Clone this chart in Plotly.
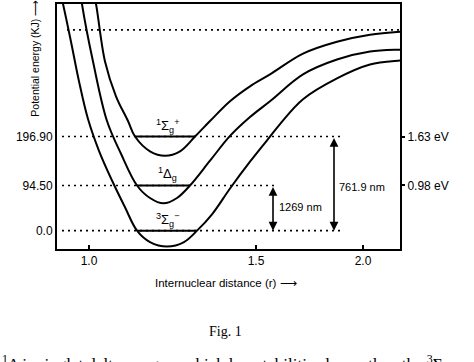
import plotly.graph_objects as go

# ---- data (r axis position, energy in kJ) ----
r_ground = [0.9162, 0.9222, 0.9461, 0.9701, 0.9970, 1.0299, 1.0689, 1.1078, 1.1437,
            1.1826, 1.2335, 1.2844, 1.3234, 1.3683, 1.4222, 1.4820, 1.5389, 1.5719,
            1.6407, 1.7425, 1.8413, 1.9311, 1.9461]
e_ground = [490.7, 474.1, 395.2, 312.2, 233.4, 167.0, 104.8, 48.8, 0.0,
            -23.9, -33.2, -23.9, 0.0, 34.2, 88.2, 144.2, 194.0, 223.0,
            274.9, 318.5, 347.5, 355.8, 356.8]

r_delta = [0.9760, 0.9790, 1.0120, 1.0539, 1.0958, 1.1437, 1.1826, 1.2231, 1.2635,
           1.3024, 1.3623, 1.4222, 1.4820, 1.5419, 1.6407, 1.7425, 1.8413, 1.9311, 1.9461]
e_delta = [490.7, 474.1, 353.7, 229.3, 160.8, 94.5, 68.3, 57.1, 68.3,
           94.5, 146.3, 198.1, 237.6, 270.7, 326.8, 357.9, 374.5, 378.6, 379.0]

r_sigma = [1.0150, 1.0210, 1.0479, 1.0808, 1.1168, 1.1377, 1.1826, 1.2275, 1.2725,
           1.3174, 1.3623, 1.4222, 1.4820, 1.5419, 1.6407, 1.7425, 1.8413, 1.9311, 1.9461]
e_sigma = [490.7, 474.1, 353.7, 281.1, 229.3, 196.9, 166.0, 156.6, 166.0,
           196.9, 229.3, 270.7, 301.9, 326.8, 370.3, 395.2, 409.8, 416.0, 416.4]

levels = [0.0, 94.5, 196.9]
level_labels = ["<sup>3</sup>Σ<sub>g</sub><sup>−</sup>",
                "<sup>1</sup>Δ<sub>g</sub>",
                "<sup>1</sup>Σ<sub>g</sub><sup>+</sup>"]
level_solid_start = [1.1437, 1.1437, 1.1377]
level_solid_end = [1.3234, 1.3024, 1.3174]
level_dot_start = [0.9192, 0.9192, 0.9192]
level_dot_end = [1.7605, 1.5659, 1.7605]
label_r = 1.2365

dissoc_energy = 420.0
dissoc_span = [0.9341, 1.9311]

transitions = ["1269 nm", "761.9 nm"]
trans_r = [1.5509, 1.7335]
trans_from = [94.5, 196.9]
trans_label_r = [1.5629, 1.7425]
trans_label_e = [48.8, 92.3]

x_tickvals = [1.0, 1.5, 1.8204]
x_ticktext = ["1.0", "1.5", "2.0"]
y_ticktext = ["0.0", "94.50", "196.90"]
ev_vals = [196.9, 94.5]
ev_text = ["1.63 eV", "0.98 eV"]

xrange = [0.9042, 1.9311]
yrange = [-38.4, 474.1]

FONT = "Liberation Sans, Arial, sans-serif"
SERIF = "Liberation Serif, Times New Roman, serif"
fig = go.Figure()

# dotted guide lines
for lv, a, b in zip(levels, level_dot_start, level_dot_end):
    fig.add_trace(go.Scatter(x=[a, b], y=[lv, lv], mode="lines",
                             line=dict(color="black", width=1.6, dash="2px,4px"),
                             hoverinfo="skip", showlegend=False))
fig.add_trace(go.Scatter(x=dissoc_span, y=[dissoc_energy, dissoc_energy], mode="lines",
                         line=dict(color="black", width=1.6, dash="2px,4px"),
                         hoverinfo="skip", showlegend=False))

# potential curves
for rr, ee in [(r_ground, e_ground), (r_delta, e_delta), (r_sigma, e_sigma)]:
    fig.add_trace(go.Scatter(x=rr, y=ee, mode="lines",
                             line=dict(color="black", width=2, shape="spline", smoothing=1.0),
                             hoverinfo="skip", showlegend=False))

# v=0 levels
for lv, a, b in zip(levels, level_solid_start, level_solid_end):
    fig.add_trace(go.Scatter(x=[a, b], y=[lv, lv], mode="lines",
                             line=dict(color="black", width=2),
                             hoverinfo="skip", showlegend=False))

# invisible trace for the right axis
fig.add_trace(go.Scatter(x=[xrange[0]], y=[0], yaxis="y2", mode="markers",
                         marker=dict(opacity=0), hoverinfo="skip", showlegend=False))

ann = []
for lv, txt in zip(levels, level_labels):
    ann.append(dict(x=label_r, y=lv, xref="x", yref="y", text=txt, showarrow=False,
                    yanchor="bottom", xanchor="center", yshift=0,
                    font=dict(family=FONT, size=13, color="black")))

for name, rx, e0, lx, ly in zip(transitions, trans_r, trans_from, trans_label_r, trans_label_e):
    ann.append(dict(x=rx, y=0.0, ax=rx, ay=e0, xref="x", yref="y", axref="x", ayref="y",
                    text="", showarrow=True, arrowside="end+start", arrowhead=2,
                    startarrowhead=2, arrowsize=1.1, startarrowsize=1.1, arrowwidth=1.6,
                    arrowcolor="black"))
    ann.append(dict(x=lx, y=ly, xref="x", yref="y", text=name, showarrow=False,
                    xanchor="left", yanchor="middle",
                    font=dict(family=FONT, size=11, color="black")))

ann.append(dict(x=-0.064, y=0.777, xref="paper", yref="paper",
                text="Potential energy (KJ) ⟶", textangle=-90, showarrow=False,
                xanchor="center", yanchor="middle",
                font=dict(family=FONT, size=10.5, color="black")))
ann.append(dict(x=0.4927, y=-0.1377, xref="paper", yref="paper",
                text="Internuclear distance (r) ⟶", showarrow=False,
                xanchor="center", yanchor="middle",
                font=dict(family=FONT, size=11.5, color="black")))
ann.append(dict(x=0.4927, y=-0.336, xref="paper", yref="paper", text="Fig. 1",
                showarrow=False, xanchor="center", yanchor="middle",
                font=dict(family=SERIF, size=14, color="black")))
ann.append(dict(x=-0.166, y=-0.467, xref="paper", yref="paper",
                text="<sup>1</sup>Δ is singlet delta oxygen, which has stabilities lower than the <sup>3</sup>Σ =",
                showarrow=False, xanchor="left", yanchor="middle",
                font=dict(family=SERIF, size=17, color="black")))

fig.update_layout(
    width=474, height=362,
    margin=dict(l=57, r=74, t=2, b=113, pad=0),
    paper_bgcolor="white", plot_bgcolor="white",
    font=dict(family=FONT, size=12, color="black"),
    xaxis=dict(range=xrange, tickvals=x_tickvals, ticktext=x_ticktext,
               ticks="inside", ticklen=4, tickwidth=1.5, tickcolor="black",
               showline=True, linewidth=2, linecolor="black", mirror=True,
               showgrid=False, zeroline=False,
               tickfont=dict(family=FONT, size=12, color="black")),
    yaxis=dict(range=yrange, tickvals=levels, ticktext=y_ticktext,
               ticks="", showline=True, linewidth=2, linecolor="black", mirror=True,
               showgrid=False, zeroline=False,
               tickfont=dict(family=FONT, size=12, color="black")),
    yaxis2=dict(range=yrange, overlaying="y", side="right", anchor="x",
                tickvals=ev_vals, ticktext=ev_text, ticks="outside", ticklen=4,
                tickwidth=1.5, tickcolor="black", showline=False, showgrid=False,
                zeroline=False, tickfont=dict(family=FONT, size=12, color="black")),
    annotations=ann,
)

fig.write_html("out.html", config={"displayModeBar": False},
               post_script="document.body.style.margin='0px';document.body.style.overflow='hidden';")
